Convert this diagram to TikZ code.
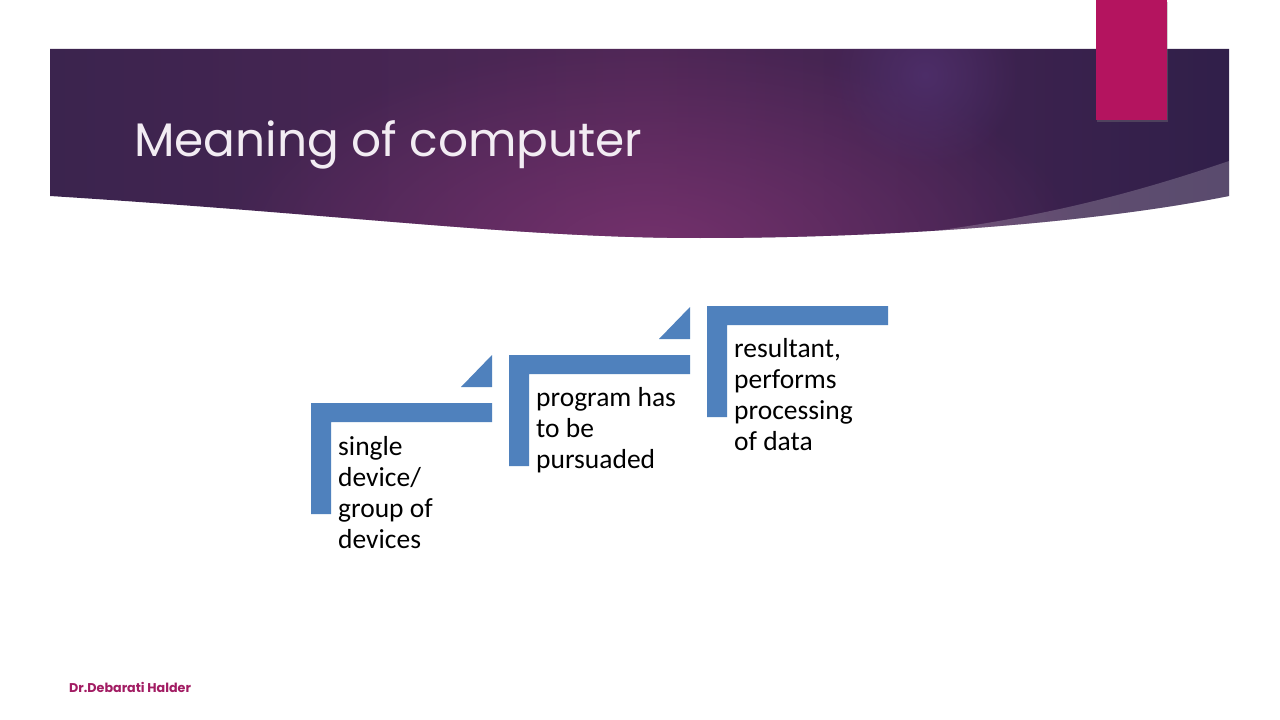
\documentclass[tikz,border=0pt]{standalone}
\usepackage{fontspec}
\setmainfont{Carlito}
\newfontfamily\titlefont{Poppins}
\usetikzlibrary{fadings,shadows}
\definecolor{bluestep}{HTML}{4F81BD}
\definecolor{magbar}{HTML}{B4145F}
\definecolor{footcol}{HTML}{A21C63}
\definecolor{bnA}{HTML}{272046}
\definecolor{bnB}{HTML}{4F2756}
\definecolor{bnC}{HTML}{211B43}
\definecolor{glowA}{HTML}{7A3370}
\definecolor{glowB}{HTML}{50306E}
\definecolor{titlecol}{HTML}{F2ECF3}
\pgfdeclarehorizontalshading{bannershade}{100bp}{color(0bp)=(bnA); color(50bp)=(bnB); color(80bp)=(bnC!80!bnB); color(100bp)=(bnC)}
\tikzfading[name=glowfade, inner color=transparent!0, outer color=transparent!100]
\tikzset{
  stepbar/.style={fill=bluestep, draw=none},
  steptext/.style={anchor=base west, inner sep=0pt, font=\fontsize{27.5bp}{31bp}\selectfont, text=black},
}
\newcommand\stepL[2]{%
  \fill[stepbar] (#1,#2) -- ++(181,0) -- ++(0,19) -- ++(-161,0) -- ++(0,92) -- ++(-20,0) -- cycle;}
\newcommand\stepTri[2]{%
  \fill[stepbar] (#1+150,#2-16) -- (#1+181,#2-48) -- (#1+181,#2-16) -- cycle;}
\begin{document}
\begin{tikzpicture}[x=1bp,y=-1bp]
\useasboundingbox (0,0) rectangle (1280,720);
\fill[white] (0,0) rectangle (1280,720);
% banner
\begin{scope}
\clip (50,49) -- (1229,49) -- (1229,196) .. controls (1100,222) and (900,238) .. (700,238) .. controls (520,238) and (350,215) .. (50,196) -- cycle;
\shade[shading=bannershade] (50,49) rectangle (1229,240);
\fill[glowA, path fading=glowfade, fill opacity=0.85] (650,250) ellipse (430 and 210);
\fill[glowB, path fading=glowfade, fill opacity=0.8] (925,75) circle (95);
\fill[white, fill opacity=0.2] (1229,161) .. controls (1100,205) and (1000,225) .. (860,240) -- (1240,240) -- cycle;
\end{scope}
\fill[magbar, drop shadow={opacity=0.35, shadow xshift=1bp, shadow yshift=-2bp}] (1096,0) rectangle (1167,120);
\node[anchor=base west, inner sep=0pt, text=titlecol, font=\titlefont\fontsize{47bp}{50bp}\selectfont] (title) at (134,157) {Meaning of computer};
% steps
\stepL{311}{403}
\stepTri{311}{403}
\stepL{509}{355}
\stepTri{509}{355}
\stepL{707}{306}
\node[steptext] (t1) at (338,455) {\begin{tabular}[t]{@{}l@{}}single\\device/\\group of\\devices\end{tabular}};
\node[steptext] (t2) at (536,406) {\begin{tabular}[t]{@{}l@{}}program has\\to be\\pursuaded\end{tabular}};
\node[steptext] (t3) at (734,357) {\begin{tabular}[t]{@{}l@{}}resultant,\\performs\\processing\\of data\end{tabular}};
\node[anchor=base west, inner sep=0pt, text=footcol, font=\titlefont\bfseries\fontsize{12.7bp}{14bp}\selectfont] (foot) at (69,692) {Dr.Debarati Halder};
\end{tikzpicture}
\end{document}
